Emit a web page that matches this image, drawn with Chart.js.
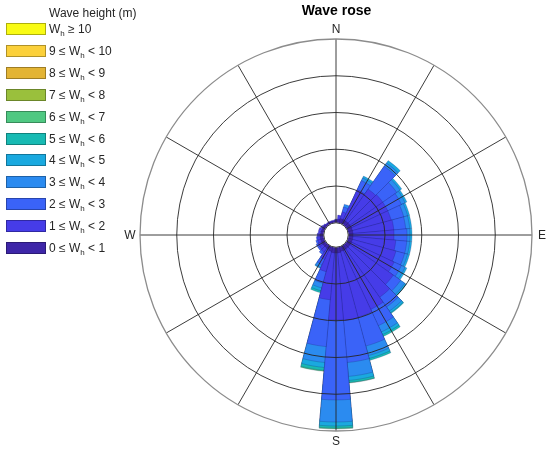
<!DOCTYPE html>
<html>
<head>
<meta charset="utf-8">
<script src="https://cdn.jsdelivr.net/npm/chart.js@4.4.1/dist/chart.umd.min.js"></script>
<style>
html, body { margin: 0; padding: 0; background: #fff; }
#wrap { position: relative; width: 550px; height: 452px; }
#rose { position: absolute; left: 0; top: 0; }
#legend { position: absolute; left: 0; top: 0; font-family: "Liberation Sans", Arial, sans-serif; font-size: 12px; color: #262626; }
#legend .head { position: absolute; left: 49px; top: 6px; line-height: 14px; white-space: nowrap; }
#legend .box { position: absolute; left: 6px; width: 38px; height: 10px; }
#legend .txt { position: absolute; left: 49px; line-height: 14px; white-space: nowrap; }
#legend sub { font-size: 8px; vertical-align: -3px; line-height: 0; }
</style>
</head>
<body>
<div id="wrap">
  <canvas id="rose" width="550" height="452"></canvas>
  <div id="legend"><div class="head">Wave height (m)</div></div>
</div>
<script>
// direction bins (degrees, clockwise from N), 10 deg wide
var directions = ['0','10','20','30','40','50','60','70','80','90','100','110',
                  '120','130','140','150','160','170','180','190','200','210','220','230',
                  '240','250','260','270','280','290','300','310','320','330','340','350'];

// frequency (%) per height class and direction
var h0_1 = [0.15,0.20,0.26,0.26,0.26,0.26, 0.26,0.26,0.26,0.26,0.26,0.26,
            0.26,0.26,0.26,0.26,0.26,0.31, 0.31,0.31,0.26,0.20,0.20,0.20,
            0.20,0.20,0.20,0.20,0.15,0.15, 0.15,0.15,0.10,0.10,0.10,0.10];
var h1_2 = [0.05,0.22,0.38,1.80,2.12,2.18, 2.18,2.18,2.23,2.23,2.34,2.45,
            2.56,2.88,3.21,3.54,3.70,3.70, 3.65,2.56,1.14,0.60,0.27,0.22,
            0.22,0.16,0.16,0.16,0.16,0.16, 0.11,0.05,0.05,0.05,0.05,0.05];
var h2_3 = [0,0,0.27,0.54,1.52,0.93, 0.82,0.71,0.65,0.71,0.60,0.49,
            0.44,0.49,0.65,0.98,1.63,2.29, 4.35,2.56,0.65,0.33,0.16,0.11,
            0.11,0.11,0.05,0,0,0, 0,0,0,0,0,0];
var h3_4 = [0,0,0.16,0.16,0.22,0.22, 0.22,0.22,0.22,0.16,0.16,0.16,
            0.22,0.27,0.27,0.38,0.54,0.76, 1.20,0.87,0.27,0.16,0,0,
            0,0,0,0,0,0, 0,0,0,0,0,0];
var h4_5 = [0,0,0,0.11,0.16,0.11, 0.11,0.11,0.11,0.11,0.11,0.11,
            0.11,0.11,0.11,0.16,0.16,0.22, 0.22,0.27,0.16,0.05,0,0,
            0,0,0,0,0,0, 0,0,0,0,0,0];
var h5_6 = [0,0,0,0,0,0, 0,0,0,0,0,0,
            0,0,0.05,0.11,0.11,0.11, 0.11,0.16,0.11,0,0,0,
            0,0,0,0,0,0, 0,0,0,0,0,0];
var h6_7 = [0,0,0,0,0,0, 0,0,0,0,0,0,
            0,0,0,0,0,0.03, 0.05,0.05,0,0,0,0,
            0,0,0,0,0,0, 0,0,0,0,0,0];
var h7_8 = [0,0,0,0,0,0, 0,0,0,0,0,0, 0,0,0,0,0,0, 0,0,0,0,0,0, 0,0,0,0,0,0, 0,0,0,0,0,0];
var h8_9 = [0,0,0,0,0,0, 0,0,0,0,0,0, 0,0,0,0,0,0, 0,0,0,0,0,0, 0,0,0,0,0,0, 0,0,0,0,0,0];
var h9_10 = [0,0,0,0,0,0, 0,0,0,0,0,0, 0,0,0,0,0,0, 0,0,0,0,0,0, 0,0,0,0,0,0, 0,0,0,0,0,0];
var h10up = [0,0,0,0,0,0, 0,0,0,0,0,0, 0,0,0,0,0,0, 0,0,0,0,0,0, 0,0,0,0,0,0, 0,0,0,0,0,0];

var classLabels = ['0 \u2264 W<sub>h</sub> &lt; 1', '1 \u2264 W<sub>h</sub> &lt; 2', '2 \u2264 W<sub>h</sub> &lt; 3',
                   '3 \u2264 W<sub>h</sub> &lt; 4', '4 \u2264 W<sub>h</sub> &lt; 5', '5 \u2264 W<sub>h</sub> &lt; 6',
                   '6 \u2264 W<sub>h</sub> &lt; 7', '7 \u2264 W<sub>h</sub> &lt; 8', '8 \u2264 W<sub>h</sub> &lt; 9',
                   '9 \u2264 W<sub>h</sub> &lt; 10', 'W<sub>h</sub> \u2265 10'];
var classColors = ['#3e26a8', '#463ce8', '#3a63f8', '#2b8bf0', '#1aa9df', '#18bab3',
                   '#4fc882', '#9ac03c', '#e3b434', '#fbd03a', '#f9fb14'];

var ringTicks = [0, 2, 4, 6, 8, 10];
var compass = ['N', 'E', 'S', 'W'];

var classes = [h0_1, h1_2, h2_3, h3_4, h4_5, h5_6, h6_7, h7_8, h8_9, h9_10, h10up];

// legend (highest class on top)
var legend = document.getElementById('legend');
for (var k = classes.length - 1; k >= 0; k--) {
    var row = classes.length - 1 - k;
    var cy = 29 + row * 21.9;
    var box = document.createElement('div');
    box.className = 'box';
    box.style.top = (cy - 6) + 'px';
    box.style.background = classColors[k];
    box.style.border = '1px solid rgba(0,0,0,0.3)';
    legend.appendChild(box);
    var txt = document.createElement('div');
    txt.className = 'txt';
    txt.style.top = (cy - 7) + 'px';
    txt.innerHTML = classLabels[k];
    legend.appendChild(txt);
}

// stacked: each class drawn to its cumulative value, smallest on top
var datasets = classes.map(function (vals, k) {
    return {
        label: classLabels[k],
        data: vals.map(function (v, i) {
            if (!(v > 0)) return 0;
            var sum = 0;
            for (var j = 0; j <= k; j++) sum += classes[j][i];
            return sum;
        }),
        backgroundColor: classColors[k],
        borderColor: 'rgba(25,15,90,0.35)',
        borderWidth: 0.6
    };
});

var roseDecor = {
    id: 'roseDecor',
    afterDatasetsDraw: function (chart) {
        var s = chart.scales.r;
        var ctx = chart.ctx;
        var cx = s.xCenter, cy = s.yCenter;
        var r0 = s.getDistanceFromCenterForValue(0);
        var R = s.drawingArea;
        ctx.save();
        ctx.strokeStyle = '#262626';
        ctx.lineWidth = 0.9;
        for (var a = 0; a < 360; a += 30) {
            var t = a * Math.PI / 180;
            ctx.beginPath();
            ctx.moveTo(cx + r0 * Math.sin(t), cy - r0 * Math.cos(t));
            ctx.lineTo(cx + R * Math.sin(t), cy - R * Math.cos(t));
            ctx.stroke();
        }
        ctx.fillStyle = '#fff';
        ctx.beginPath();
        ctx.arc(cx, cy, r0 + 0.3, 0, 2 * Math.PI);
        ctx.fill();
        ctx.font = '12px "Liberation Sans", Arial, sans-serif';
        ctx.fillStyle = '#262626';
        ctx.textAlign = 'center';
        ctx.textBaseline = 'middle';
        compass.forEach(function (lbl, i) {
            var t = i * Math.PI / 2;
            ctx.fillText(lbl, cx + (R + 10) * Math.sin(t), cy - (R + 10) * Math.cos(t) + 1);
        });
        ctx.restore();
    }
};

var ctx = document.getElementById('rose').getContext('2d');
var myChart = new Chart(ctx, {
    type: 'polarArea',
    data: {
        labels: directions,
        datasets: datasets
    },
    options: {
        responsive: false,
        animation: false,
        layout: { padding: { left: 140, right: 17, top: 2.5, bottom: 20 } },
        plugins: {
            legend: { display: false },
            tooltip: { enabled: false },
            title: {
                display: true,
                text: 'Wave rose',
                color: '#000',
                font: { family: '"Liberation Sans", Arial, sans-serif', size: 14, weight: 'bold' },
                padding: { top: 0, bottom: 20 }
            }
        },
        scales: {
            r: {
                min: -2 / 3,
                max: 10,
                startAngle: -5,
                ticks: { display: false, z: 1 },
                pointLabels: { display: false },
                angleLines: { display: false },
                grid: {
                    circular: true,
                    z: 1,
                    color: function (c) { return c.tick && c.tick.value === 10 ? '#8c8c8c' : '#262626'; },
                    lineWidth: function (c) { return c.tick && c.tick.value === 10 ? 1.3 : 0.9; }
                },
                afterBuildTicks: function (scale) {
                    scale.ticks = ringTicks.map(function (v) { return { value: v }; });
                }
            }
        }
    },
    plugins: [roseDecor]
});
</script>
</body>
</html>
